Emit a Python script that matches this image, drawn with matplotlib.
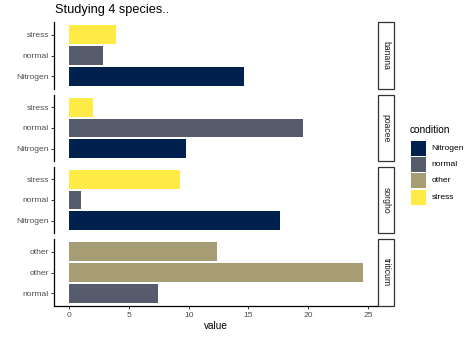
import matplotlib.pyplot as plt
from matplotlib.patches import Rectangle

plt.rcParams["font.family"] = ["Liberation Sans", "DejaVu Sans"]

species = ["banana", "poacee", "sorgho", "triticum"]

# labels listed bottom -> top in each panel
banana_labels = ["Nitrogen", "normal", "stress"]
banana_values = [14.6, 2.8, 3.9]
poacee_labels = ["Nitrogen", "normal", "stress"]
poacee_values = [9.75, 19.6, 2.0]
sorgho_labels = ["Nitrogen", "normal", "stress"]
sorgho_values = [17.6, 1.0, 9.3]
triticum_labels = ["normal", "other", "other"]
triticum_values = [7.4, 24.6, 12.4]

conditions = ["Nitrogen", "normal", "other", "stress"]
colors = {"Nitrogen": "#00204D", "normal": "#575C6D",
          "other": "#A69D75", "stress": "#FFEA46"}

x_ticks = [0, 5, 10, 15, 20, 25]

panels = [
    (banana_labels, banana_values),
    (poacee_labels, poacee_values),
    (sorgho_labels, sorgho_values),
    (triticum_labels, triticum_values),
]

W, H = 474, 338
fig = plt.figure(figsize=(W / 100, H / 100), dpi=100)

px_left, px_right = 54.3, 378.0
rows = [(22, 89), (95, 161), (167, 233), (239, 306)]
xmax = max(max(v) for _, v in panels)
xlim = (-0.05 * xmax, 1.05 * xmax)

for i, ((labels, values), (top, bot)) in enumerate(zip(panels, rows)):
    ax = fig.add_axes([px_left / W, 1 - bot / H, (px_right - px_left) / W, (bot - top) / H])
    ypos = list(range(1, len(labels) + 1))
    ax.barh(ypos, values, height=0.9, color=[colors[c] for c in labels])
    ax.set_ylim(0.4, len(labels) + 0.6)
    ax.set_xlim(*xlim)
    ax.set_yticks(ypos)
    ax.set_yticklabels(labels)
    for s in ["top", "right"]:
        ax.spines[s].set_visible(False)
    ax.spines["left"].set_linewidth(0.9)
    ax.tick_params(axis="y", length=2.5, width=0.7, pad=1.5, labelsize=6.1,
                   labelcolor="#4D4D4D", color="#333333")
    if i < len(panels) - 1:
        ax.spines["bottom"].set_visible(False)
        ax.set_xticks([])
    else:
        ax.spines["bottom"].set_linewidth(0.9)
        ax.set_xticks(x_ticks)
        ax.tick_params(axis="x", length=2.5, width=0.7, pad=1.5, labelsize=6.1,
                       labelcolor="#4D4D4D", color="#333333")
        ax.set_xlabel("value", fontsize=7.2, labelpad=2)

# overlay in pixel coordinates for strips, title and legend
ov = fig.add_axes([0, 0, 1, 1])
ov.set_xlim(0, W)
ov.set_ylim(H, 0)
ov.axis("off")

for name, (top, bot) in zip(species, rows):
    ov.add_patch(Rectangle((378, top), 16, bot - top, facecolor="white",
                           edgecolor="#333333", linewidth=0.9))
    ov.text(386, (top + bot) / 2, name, rotation=-90, ha="center", va="center",
            fontsize=6.2, color="#1A1A1A")

ov.text(55, 10, "Studying 4 species..", fontsize=9.2, ha="left", va="center")

ov.text(410, 130, "condition", fontsize=7.3, ha="left", va="center")
for k, c in enumerate(conditions):
    y0 = 141 + k * 16.2
    ov.add_patch(Rectangle((411, y0), 15, 15, facecolor=colors[c], edgecolor="none"))
    ov.text(431.5, y0 + 7.5, c, fontsize=6.1, ha="left", va="center")

fig.savefig("out.png", dpi=100)
